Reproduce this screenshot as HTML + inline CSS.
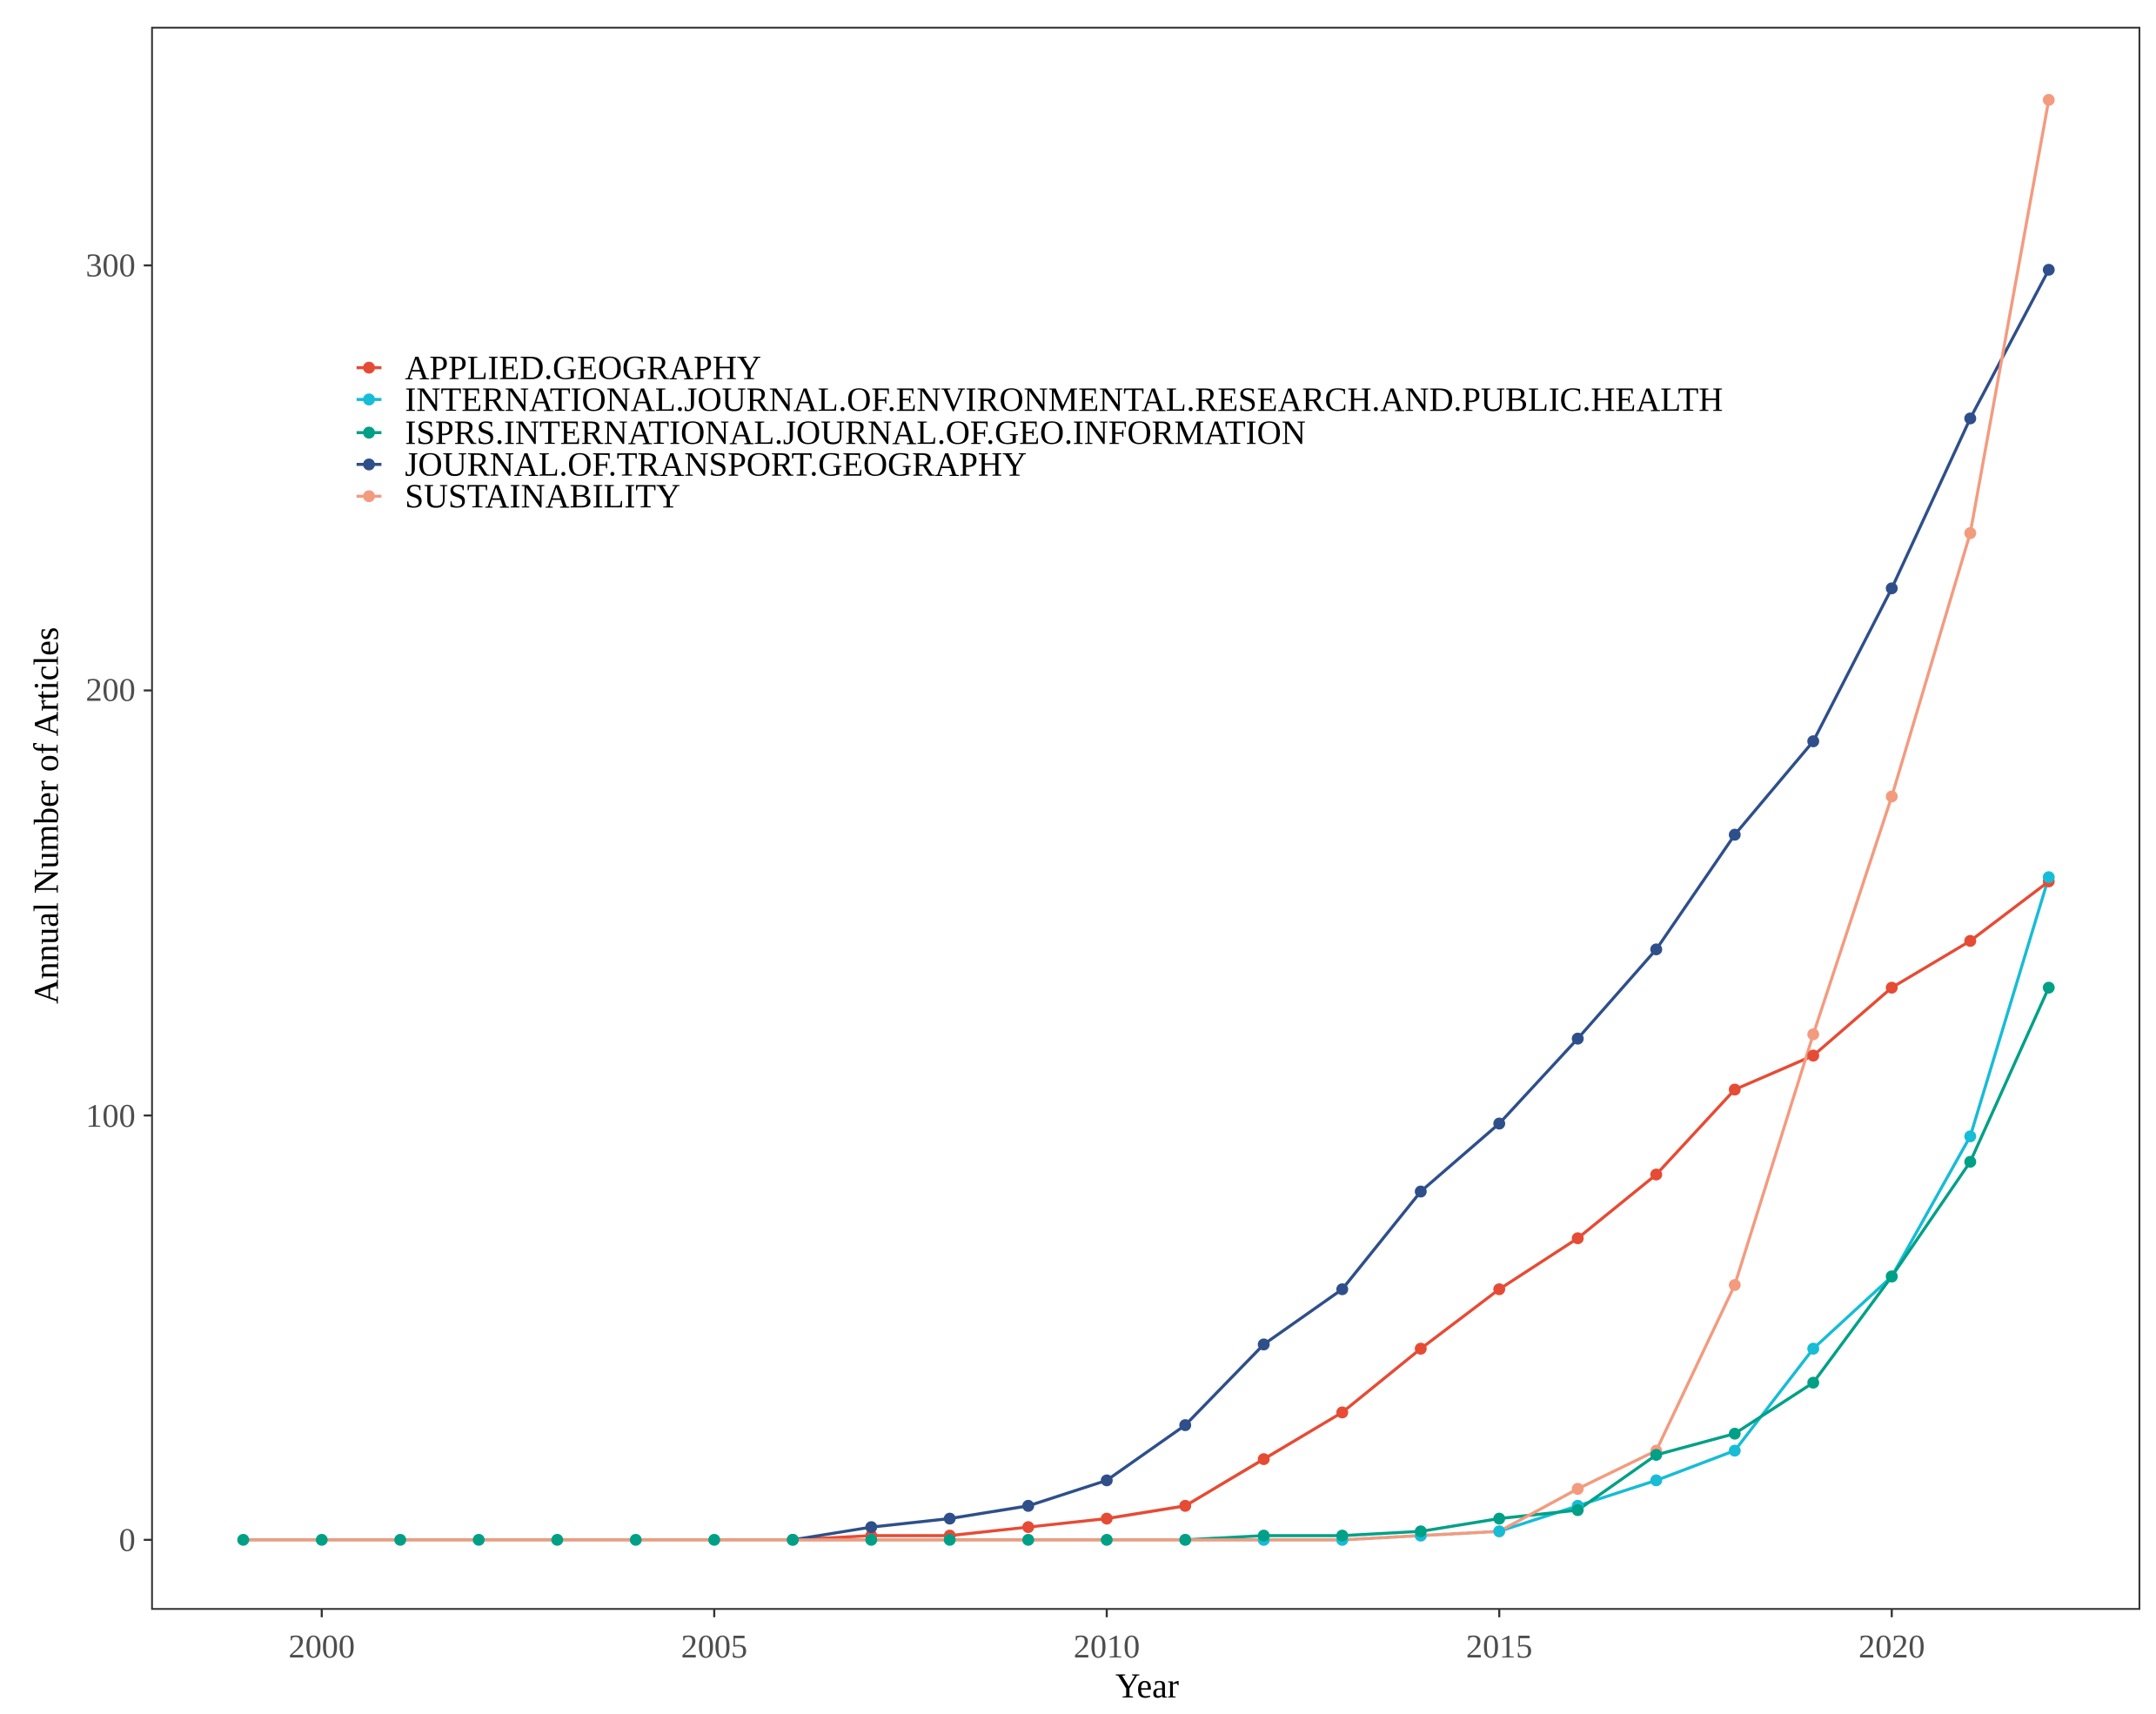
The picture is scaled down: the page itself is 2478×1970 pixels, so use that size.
<!DOCTYPE html>
<html><head><meta charset="utf-8"><style>
html,body{margin:0;padding:0;background:#fff}
svg{display:block}
text{font-family:"Liberation Serif",serif}
</style></head><body>
<svg id="s" width="2478" height="1970" viewBox="0 0 1560 1240" preserveAspectRatio="none" xmlns="http://www.w3.org/2000/svg">
<rect x="0" y="0" width="1560" height="1240" fill="#fff"/>
<rect x="110" y="20" width="1438" height="1144" fill="none" stroke="#333" stroke-width="1.3"/>
<g stroke="#333" stroke-width="1.5">
<line x1="104" y1="1114" x2="110" y2="1114"/><line x1="104" y1="807" x2="110" y2="807"/><line x1="104" y1="499.5" x2="110" y2="499.5"/><line x1="104" y1="192" x2="110" y2="192"/>
<line x1="232.8" y1="1164" x2="232.8" y2="1170"/><line x1="516.8" y1="1164" x2="516.8" y2="1170"/><line x1="800.8" y1="1164" x2="800.8" y2="1170"/><line x1="1084.8" y1="1164" x2="1084.8" y2="1170"/><line x1="1368.8" y1="1164" x2="1368.8" y2="1170"/>
</g>
<g fill="#4d4d4d" font-size="24" text-anchor="end">
<text x="98" y="1122">0</text><text x="98" y="815">100</text><text x="98" y="507">200</text><text x="98" y="200">300</text>
</g>
<g fill="#4d4d4d" font-size="24" text-anchor="middle">
<text x="232.8" y="1199">2000</text><text x="516.8" y="1199">2005</text><text x="800.8" y="1199">2010</text><text x="1084.8" y="1199">2015</text><text x="1368.8" y="1199">2020</text>
</g>
<text x="830" y="1228" font-size="25" text-anchor="middle" fill="#000">Year</text>
<text transform="translate(42,590) rotate(-90)" font-size="25" text-anchor="middle" fill="#000">Annual Number of Articles</text>
<g id="data"></g>
<g font-size="24.5" fill="#000">
<line x1="258" y1="266" x2="276" y2="266" stroke="#E64B35" stroke-width="2.2"/><circle cx="267" cy="266" r="4.3" fill="#E64B35"/><text x="293" y="274">APPLIED.GEOGRAPHY</text>
<line x1="258" y1="289" x2="276" y2="289" stroke="#17BCD6" stroke-width="2.2"/><circle cx="267" cy="289" r="4.3" fill="#17BCD6"/><text x="293" y="297">INTERNATIONAL.JOURNAL.OF.ENVIRONMENTAL.RESEARCH.AND.PUBLIC.HEALTH</text>
<line x1="258" y1="313" x2="276" y2="313" stroke="#00A087" stroke-width="2.2"/><circle cx="267" cy="313" r="4.3" fill="#00A087"/><text x="293" y="321">ISPRS.INTERNATIONAL.JOURNAL.OF.GEO.INFORMATION</text>
<line x1="258" y1="336" x2="276" y2="336" stroke="#2E4F8A" stroke-width="2.2"/><circle cx="267" cy="336" r="4.3" fill="#2E4F8A"/><text x="293" y="344">JOURNAL.OF.TRANSPORT.GEOGRAPHY</text>
<line x1="258" y1="359" x2="276" y2="359" stroke="#F39B7F" stroke-width="2.2"/><circle cx="267" cy="359" r="4.3" fill="#F39B7F"/><text x="293" y="367">SUSTAINABILITY</text>
</g>
</svg>
<script>
const X=y=>176+(y-1999)*56.8, Y=v=>1114-v*3.073;
const S=[
{c:"#E64B35",s:2006,d:[0,1,1,3,5,8,19,30,45,59,71,86,106,114,130,141,155]},
{c:"#17BCD6",s:2011,d:[0,0,0,1,2,8,14,21,45,62,95,156]},
{c:"#00A087",s:1999,d:[0,0,0,0,0,0,0,0,0,0,0,0,0,1,1,2,5,7,20,25,37,62,89,130]},
{c:"#2E4F8A",s:2006,d:[0,3,5,8,14,27,46,59,82,98,118,139,166,188,224,264,299]},
{c:"#F39B7F",s:1999,d:[0,0,0,0,0,0,0,0,0,0,0,0,0,0,0,1,2,12,21,60,119,175,237,339],ps:2012}
];
let h="";
for(const s of S){h+=`<polyline fill="none" stroke="${s.c}" stroke-width="2.2" points="${s.d.map((v,i)=>X(s.s+i)+","+Y(v)).join(" ")}"/>`;}
for(const s of [S[4],S[0],S[1],S[3],S[2]]){s.d.forEach((v,i)=>{const yr=s.s+i;if(s.ps&&yr<s.ps)return;h+=`<circle cx="${X(yr)}" cy="${Y(v)}" r="4.3" fill="${s.c}"/>`;});}
document.getElementById("data").innerHTML=h;
</script>
</body></html>
